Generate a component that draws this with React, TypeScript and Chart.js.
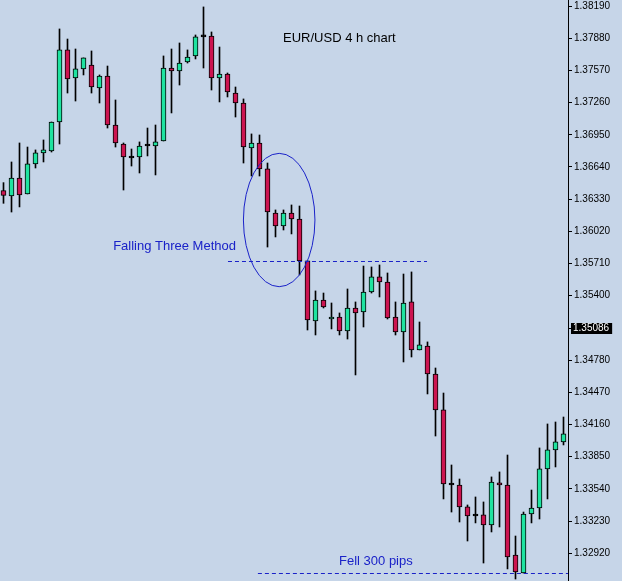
import React, { useEffect, useRef } from "react";
import { Chart, registerables } from "chart.js";
Chart.register(...registerables);

const opens = [
  1.36412, 1.36361, 1.36534, 1.3638, 1.36669, 1.36775, 1.36794, 1.37073, 1.37767, 1.37497,
  1.37584, 1.37622, 1.37401, 1.37516, 1.37044, 1.36861, 1.36726, 1.36736, 1.36842, 1.36842,
  1.3689, 1.37593, 1.37564, 1.37651, 1.37709, 1.37892, 1.37901, 1.37497, 1.37535, 1.37352,
  1.37256, 1.36823, 1.36871, 1.36621, 1.36197, 1.36072, 1.36197, 1.36139, 1.35735, 1.35157,
  1.35359, 1.35176, 1.35195, 1.35061, 1.35282, 1.35243, 1.35436, 1.35581, 1.35532, 1.35195,
  1.35051, 1.3534, 1.34878, 1.34916, 1.34646, 1.343, 1.33577, 1.33577, 1.33366, 1.33279,
  1.33289, 1.33192, 1.33597, 1.33577, 1.32903, 1.3273, 1.33298, 1.33356, 1.33732, 1.33915,
  1.33992,
];
const highs = [
  1.36489, 1.36688, 1.36871, 1.36832, 1.36804, 1.369, 1.37073, 1.37969, 1.37872, 1.37776,
  1.3769, 1.37757, 1.37526, 1.37612, 1.37285, 1.36871, 1.36813, 1.36881, 1.37015, 1.37044,
  1.37709, 1.37776, 1.37834, 1.37767, 1.37911, 1.38181, 1.3794, 1.37795, 1.37545, 1.3741,
  1.37295, 1.36958, 1.36948, 1.36678, 1.36226, 1.36226, 1.36274, 1.36264, 1.35735, 1.35446,
  1.35426, 1.3533, 1.35234, 1.35465, 1.3534, 1.35686, 1.35677, 1.35696, 1.35619, 1.3534,
  1.35609, 1.35629, 1.35147, 1.34955, 1.34704, 1.34463, 1.3377, 1.33635, 1.33385, 1.33462,
  1.33414, 1.33655, 1.33703, 1.33866, 1.33086, 1.33317, 1.33529, 1.33934, 1.34165, 1.34184,
  1.34232,
];
const lows = [
  1.3629, 1.36206, 1.36255, 1.3638, 1.3663, 1.36688, 1.36784, 1.36861, 1.37352, 1.37275,
  1.37526, 1.37352, 1.37256, 1.37015, 1.36832, 1.36418, 1.36649, 1.36582, 1.36746, 1.36563,
  1.3689, 1.3716, 1.37429, 1.37641, 1.3768, 1.37593, 1.37381, 1.37266, 1.37314, 1.37121,
  1.36678, 1.36553, 1.36553, 1.35869, 1.35966, 1.36033, 1.35995, 1.356, 1.3507, 1.35022,
  1.35282, 1.3508, 1.35022, 1.34983, 1.34637, 1.35099, 1.35426, 1.35388, 1.35176, 1.35022,
  1.34762, 1.3481, 1.34878, 1.34454, 1.34049, 1.33443, 1.33317, 1.33221, 1.33038, 1.33212,
  1.32826, 1.33125, 1.33173, 1.32769, 1.32672, 1.3273, 1.33212, 1.3325, 1.33443, 1.33751,
  1.33963,
];
const closes = [
  1.36367, 1.36534, 1.3637, 1.36669, 1.36775, 1.36804, 1.37073, 1.37767, 1.37487, 1.37584,
  1.3769, 1.3741, 1.37516, 1.37044, 1.36871, 1.36736, 1.36726, 1.36842, 1.36842, 1.36881,
  1.37593, 1.37564, 1.37641, 1.37699, 1.37892, 1.37892, 1.37497, 1.37535, 1.37362, 1.37256,
  1.36832, 1.36871, 1.36621, 1.36206, 1.36072, 1.36197, 1.36139, 1.35735, 1.35166, 1.35359,
  1.35292, 1.35195, 1.35061, 1.35282, 1.35234, 1.35436, 1.35581, 1.35532, 1.35186, 1.35051,
  1.3533, 1.34878, 1.34926, 1.34646, 1.343, 1.33587, 1.33577, 1.33366, 1.33279, 1.33279,
  1.33192, 1.33606, 1.33577, 1.32884, 1.3274, 1.33298, 1.33356, 1.33732, 1.33915, 1.33992,
  1.34069,
];
const yTicks = [
  1.3819, 1.3788, 1.3757, 1.3726, 1.3695, 1.3664, 1.3633, 1.3602, 1.3571,
  1.354, 1.3478, 1.3447, 1.3416, 1.3385, 1.3354, 1.3323, 1.3292,
];
const currentPrice = 1.35086;
const titleText = "EUR/USD 4 h chart";
const patternText = "Falling Three Method";
const fellText = "Fell 300 pips";

// annotation anchors in data space (candle index, price)
const titleAnchor = [34.94, 1.37882];
const patternAnchor = [29.06, 1.35879];
const fellAnchor = [41.94, 1.32846];
const breakLine = [28.06, 52.94, 1.35735];
const bottomLine = [31.8, 70.56, 1.3273];
const ellipseSpec = [34.46, 1.36129, 4.47, 0.00642];

const Y_MIN = 1.326528;
const Y_MAX = 1.382478;
const X_MIN = -0.4375;
const X_MAX = 70.5625;

const BG = "#c6d5e8";
const UP = "#1fe3a0";
const DOWN = "#cc1450";
const BLUE = "#1a22c8";
const FONT = '"Liberation Sans", Arial, sans-serif';

const annotPlugin = {
  id: "annot",
  afterDatasetsDraw(chart: any) {
    const { ctx, scales } = chart;
    const x = scales.x;
    const y = scales.y;
    const px = (v: number) => x.getPixelForValue(v);
    const py = (v: number) => y.getPixelForValue(v);
    ctx.save();
    ctx.textBaseline = "middle";

    ctx.font = "13px " + FONT;
    ctx.fillStyle = "#000";
    ctx.textAlign = "left";
    ctx.fillText(titleText, px(titleAnchor[0]), py(titleAnchor[1]));

    ctx.fillStyle = BLUE;
    ctx.textAlign = "right";
    ctx.fillText(patternText, px(patternAnchor[0]), py(patternAnchor[1]));
    ctx.textAlign = "left";
    ctx.fillText(fellText, px(fellAnchor[0]), py(fellAnchor[1]));

    ctx.strokeStyle = BLUE;
    ctx.lineWidth = 1;
    ctx.setLineDash([4, 3]);
    const ly1 = Math.round(py(breakLine[2])) + 0.5;
    ctx.beginPath();
    ctx.moveTo(px(breakLine[0]), ly1);
    ctx.lineTo(px(breakLine[1]), ly1);
    ctx.stroke();
    const ly2 = Math.round(py(bottomLine[2])) + 0.5;
    ctx.beginPath();
    ctx.moveTo(px(bottomLine[0]), ly2);
    ctx.lineTo(px(bottomLine[1]), ly2);
    ctx.stroke();

    ctx.setLineDash([]);
    const cx = px(ellipseSpec[0]);
    const cy = py(ellipseSpec[1]);
    const rx = Math.abs(px(ellipseSpec[0] + ellipseSpec[2]) - cx);
    const ry = Math.abs(py(ellipseSpec[1] + ellipseSpec[3]) - cy);
    ctx.beginPath();
    ctx.ellipse(cx, cy, rx, ry, 0, 0, Math.PI * 2);
    ctx.stroke();

    // current price marker on the axis
    const ax = y.left;
    const cpy = Math.round(py(currentPrice)) + 0.5;
    ctx.strokeStyle = "#000";
    ctx.beginPath();
    ctx.moveTo(ax, cpy);
    ctx.lineTo(ax + 4, cpy);
    ctx.stroke();
    ctx.font = "10px " + FONT;
    const label = currentPrice.toFixed(5);
    const tw = ctx.measureText(label).width;
    ctx.fillStyle = "#000";
    ctx.fillRect(ax + 3, cpy - 5.5, tw + 5, 11);
    ctx.fillStyle = "#fff";
    ctx.textAlign = "left";
    ctx.fillText(label, ax + 5, cpy);
    ctx.restore();
  },
};

export default function App() {
  const ref = useRef<HTMLCanvasElement | null>(null);
  useEffect(() => {
    if (!ref.current) return;
    const idx = opens.map((_, i) => i);
    const bodyColors = idx.map((i) =>
      closes[i] > opens[i] ? UP : closes[i] < opens[i] ? DOWN : "#000"
    );
    const chart = new Chart(ref.current, {
      type: "bar",
      data: {
        datasets: [
          {
            label: "body",
            data: idx.map((i) => ({ x: i, y: [opens[i], closes[i]] })) as any,
            backgroundColor: bodyColors,
            borderColor: "#000",
            borderWidth: 1,
            borderSkipped: false,
            barThickness: 5,
            minBarLength: 2,
            grouped: false,
            order: 1,
          } as any,
          {
            label: "wick",
            data: idx.map((i) => ({ x: i, y: [lows[i], highs[i]] })) as any,
            backgroundColor: "#000",
            borderWidth: 0,
            barThickness: 1,
            grouped: false,
            order: 2,
          } as any,
        ],
      },
      options: {
        animation: false,
        responsive: false,
        devicePixelRatio: 1,
        layout: { padding: 0 },
        plugins: {
          legend: { display: false },
          tooltip: { enabled: false },
          title: { display: false },
        },
        scales: {
          x: {
            type: "linear",
            display: false,
            min: X_MIN,
            max: X_MAX,
            offset: false,
          },
          y: {
            type: "linear",
            position: "right",
            min: Y_MIN,
            max: Y_MAX,
            afterBuildTicks: (s: any) => {
              s.ticks = yTicks.map((v) => ({ value: v }));
            },
            afterFit: (s: any) => {
              s.width = 54;
              s.paddingTop = 0;
              s.paddingBottom = 0;
            },
            grid: {
              drawOnChartArea: false,
              drawTicks: true,
              tickLength: 4,
              tickColor: "#000",
              tickWidth: 1,
            },
            border: { display: true, color: "#000", width: 1 },
            ticks: {
              color: "#000",
              padding: 2,
              font: { family: FONT, size: 10 },
              callback: (v: any) => Number(v).toFixed(5),
            },
          },
        },
      } as any,
      plugins: [annotPlugin],
    });
    return () => chart.destroy();
  }, []);
  return (
    <div
      style={{
        position: "absolute",
        left: 0,
        top: 0,
        width: 622,
        height: 581,
        background: BG,
      }}
    >
      <canvas ref={ref} width={622} height={581} style={{ display: "block" }} />
    </div>
  );
}
